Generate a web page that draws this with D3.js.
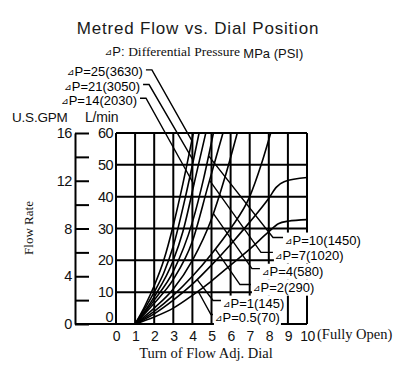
<!DOCTYPE html>
<html><head><meta charset="utf-8">
<script src="https://cdn.jsdelivr.net/npm/d3@7"></script>
<style>body{margin:0;background:#fff} svg{display:block}</style>
</head><body>
<svg id="c" width="407" height="370"></svg>
<script>
// ---------- data ----------
const titleText = "Metred Flow vs. Dial Position";
const turnTicks = [0,1,2,3,4,5,6,7,8,9,10];
const lpmTicks = [0,10,20,30,40,50,60];
const gpmTicks = [0,2,4,6,8,10,12,14,16];
const gpmLabels = [0,4,8,12,16];
const pressures = ["0.5","1","2","4","7","10","14","21","25"];
const psiValues = ["70","145","290","580","1020","1450","2030","3050","3630"];
// flow (L/min) vs turn of dial, one array per differential pressure
const flowP05 = [[1,0],[2,2.2],[3,5],[4,9],[5,13.5],[6,18.5],[7,23.5],[8,29],[8.5,31.5],[9,32.3],[10,32.8]];
const flowP1  = [[1,0],[2,3.2],[3,7.5],[4,12.5],[5,18.5],[6,25],[7,32],[8,39.5],[8.4,43],[8.8,44.7],[10,46]];
const flowP2  = [[1,0],[2,4],[3,9],[4,15],[5,22],[6,30],[7,40],[7.6,50],[8.1,60]];
const flowP4  = [[1,0],[2,5],[3,11],[4,20],[5,33],[5.7,46],[6.35,60]];
const flowP7  = [[1,0],[2,6.5],[3,14],[4,26],[4.8,43],[5.6,60]];
const flowP10 = [[1,0],[2,7.5],[3,16.5],[4,32],[4.6,46],[5.1,60]];
const flowP14 = [[1,0],[2,8.5],[3,20],[3.5,29],[4.2,47],[4.7,60]];
const flowP21 = [[1,0],[2,10],[2.5,16],[3,24.5],[3.6,39],[4.35,60]];
const flowP25 = [[1,0],[1.5,5.5],[2,12],[2.5,20],[3,31],[3.5,44],[4.05,60]];
const flowSeries = [flowP05, flowP1, flowP2, flowP4, flowP7, flowP10, flowP14, flowP21, flowP25];

// ---------- layout ----------
const svg = d3.select("#c");
const x  = d3.scaleLinear().domain([0,10]).range([116,307]);
const yL = d3.scaleLinear().domain([0,60]).range([324,133]);
const yG = d3.scaleLinear().domain([0,16]).range([324,133]);
const gpmAxisX = 75;
const SANS = "'Liberation Sans', Arial, Helvetica, sans-serif";
const SERIF = "'Liberation Serif', 'Times New Roman', serif";
const TRI = "'DejaVu Sans', 'Noto Sans CJK JP', sans-serif";
const INK = "#000";

// label placement (data units): leader target turn on the curve, label anchor
const leftLabels = {   // text ends at tx, centered at ty
  "25": {tx:1.41, ty:79.2, lt:3.97},
  "21": {tx:1.26, ty:74.6, lt:4.05},
  "14": {tx:1.10, ty:70.3, lt:4.08}
};
const rightLabels = {  // dash starts at dt, text starts at tx, centered at ty
  "10":  {dt:8.22, tx:8.85, ty:26.4, lt:4.85},
  "7":   {dt:7.59, tx:8.32, ty:21.7, lt:4.90},
  "4":   {dt:7.12, tx:7.64, ty:16.6, lt:5.10},
  "2":   {dt:6.49, tx:7.17, ty:11.6, lt:5.20},
  "1":   {dt:5.08, tx:5.60, ty:6.6,  lt:4.25},
  "0.5": {dt:4.97, tx:5.18, ty:2.2,  lt:4.30}
};

// ---------- titles ----------
svg.append("text").attr("x",198).attr("y",34).attr("text-anchor","middle")
  .attr("font-family",SANS).attr("font-size",17).attr("letter-spacing",0.8)
  .attr("fill","#1a1a1a").text(titleText);

const sub = svg.append("text").attr("x",204).attr("y",56).attr("text-anchor","middle").attr("fill","#111");
sub.append("tspan").attr("font-family",TRI).attr("font-size",9).attr("dy",-1).text("⊿");
sub.append("tspan").attr("font-family",SANS).attr("font-size",13).attr("dy",1).text("P: ");
sub.append("tspan").attr("font-family",SERIF).attr("font-size",13.5).text("Differential Pressure ");
sub.append("tspan").attr("font-family",SANS).attr("font-size",13).attr("dy",1.5).text("MPa (PSI)");

svg.append("text").attr("x",12).attr("y",121.5).attr("font-family",SANS).attr("font-size",13.5)
  .attr("letter-spacing",-0.2).attr("fill","#111").text("U.S.GPM");
svg.append("text").attr("x",85).attr("y",121.5).attr("font-family",SANS).attr("font-size",14)
  .attr("letter-spacing",-0.2).attr("fill","#111").text("L/min");

svg.append("text").attr("transform","translate(33,228) rotate(-90)").attr("text-anchor","middle")
  .attr("font-family",SERIF).attr("font-size",13).attr("fill","#111").text("Flow Rate");
svg.append("text").attr("x",206).attr("y",358).attr("text-anchor","middle")
  .attr("font-family",SERIF).attr("font-size",14.5).attr("fill","#111").text("Turn of Flow Adj. Dial");
svg.append("text").attr("x",x(10)+10).attr("y",339)
  .attr("font-family",SERIF).attr("font-size",14.5).attr("fill","#111").text("(Fully Open)");

// ---------- grid ----------
const grid = svg.append("g").attr("stroke",INK).attr("stroke-width",2);
grid.selectAll("line.v").data(turnTicks).join("line").attr("class","v")
  .attr("x1",d=>x(d)).attr("x2",d=>x(d)).attr("y1",yL(0)).attr("y2",yL(60));
grid.selectAll("line.h").data(lpmTicks).join("line").attr("class","h")
  .attr("x1",d=>d===0?gpmAxisX:x(0)).attr("x2",x(10)).attr("y1",d=>yL(d)).attr("y2",d=>yL(d));

// ---------- GPM axis ----------
const gAx = svg.append("g").attr("transform",`translate(${gpmAxisX},0)`)
  .call(d3.axisRight(yG).tickValues(gpmTicks).tickSize(14).tickSizeOuter(0).tickFormat(""));
gAx.selectAll("path,line").attr("stroke",INK).attr("stroke-width",2);
const gLab = svg.append("g").attr("transform",`translate(${gpmAxisX},0)`)
  .call(d3.axisLeft(yG).tickValues(gpmLabels).tickSize(0).tickPadding(3));
gLab.select(".domain").remove();
gLab.selectAll("text").attr("font-family",SANS).attr("font-size",14.5).attr("fill","#111").attr("letter-spacing",-0.4);

// ---------- L/min labels ----------
const lLab = svg.append("g").attr("transform",`translate(${x(0)},0)`)
  .call(d3.axisLeft(yL).tickValues(lpmTicks).tickSize(0).tickPadding(3));
lLab.select(".domain").remove();
lLab.selectAll("text").attr("font-family",SANS).attr("font-size",14.5).attr("fill","#111").attr("letter-spacing",-0.6)
  .attr("dy", d => d===0 ? "-0.2em" : "0.32em");

// ---------- turn labels ----------
const tLab = svg.append("g").attr("transform",`translate(0,${yL(0)})`)
  .call(d3.axisBottom(x).tickValues(turnTicks).tickSize(0).tickPadding(7));
tLab.select(".domain").remove();
tLab.selectAll("text").attr("font-family",SANS).attr("font-size",14).attr("fill","#111").attr("letter-spacing",-0.5);

// ---------- curves ----------
const line = d3.line().x(d=>x(d[0])).y(d=>yL(d[1])).curve(d3.curveMonotoneX);
const paths = {};
flowSeries.forEach((s,i)=>{
  const p = svg.append("path").datum(s).attr("d",line).attr("fill","none")
    .attr("stroke",INK).attr("stroke-width",1.6);
  paths[pressures[i]] = p.node();
});
function pointAtTurn(node, t){
  const tx = x(t); let lo=0, hi=node.getTotalLength();
  for(let k=0;k<40;k++){ const m=(lo+hi)/2; if(node.getPointAtLength(m).x<tx) lo=m; else hi=m; }
  return node.getPointAtLength((lo+hi)/2);
}
function labelText(g, p, i, xpos, ypos, anchor){
  const t = g.append("text").attr("x",xpos).attr("y",ypos).attr("text-anchor",anchor).attr("fill","#000");
  t.append("tspan").attr("font-family",TRI).attr("font-size",9).attr("dy",-1).text("⊿");
  t.append("tspan").attr("font-family",SANS).attr("font-size",13).attr("dy",1).text(`P=${p}(${psiValues[i]})`);
  return t;
}

// ---------- leaders & labels ----------
const ann = svg.append("g");
pressures.forEach((p,i)=>{
  const L = leftLabels[p];
  if(!L) return;
  const end = pointAtTurn(paths[p], L.lt);
  const cy = yL(L.ty);
  ann.append("polyline").attr("fill","none").attr("stroke",INK).attr("stroke-width",1.4)
    .attr("points",[[x(L.tx)+3,cy-2],[x(L.tx)+9,cy-2],[end.x,end.y]].map(q=>q.join(",")).join(" "));
  labelText(ann, p, i, x(L.tx), cy+4.6, "end");
});
const boxes = svg.append("g"), texts = svg.append("g");
pressures.forEach((p,i)=>{
  const R = rightLabels[p];
  if(!R) return;
  const end = pointAtTurn(paths[p], R.lt);
  const cy = yL(R.ty);
  ann.append("polyline").attr("fill","none").attr("stroke",INK).attr("stroke-width",1.4)
    .attr("points",[[end.x,end.y],[x(R.dt),cy-2.5],[x(R.tx)-2,cy-2.5]].map(q=>q.join(",")).join(" "));
  const t = labelText(texts, p, i, x(R.tx), cy+4.6, "start");
  const b = t.node().getBBox();
  boxes.append("rect").attr("x",b.x-1).attr("y",b.y).attr("width",b.width+2).attr("height",b.height+1).attr("fill","#fff");
});
</script>
</body></html>
